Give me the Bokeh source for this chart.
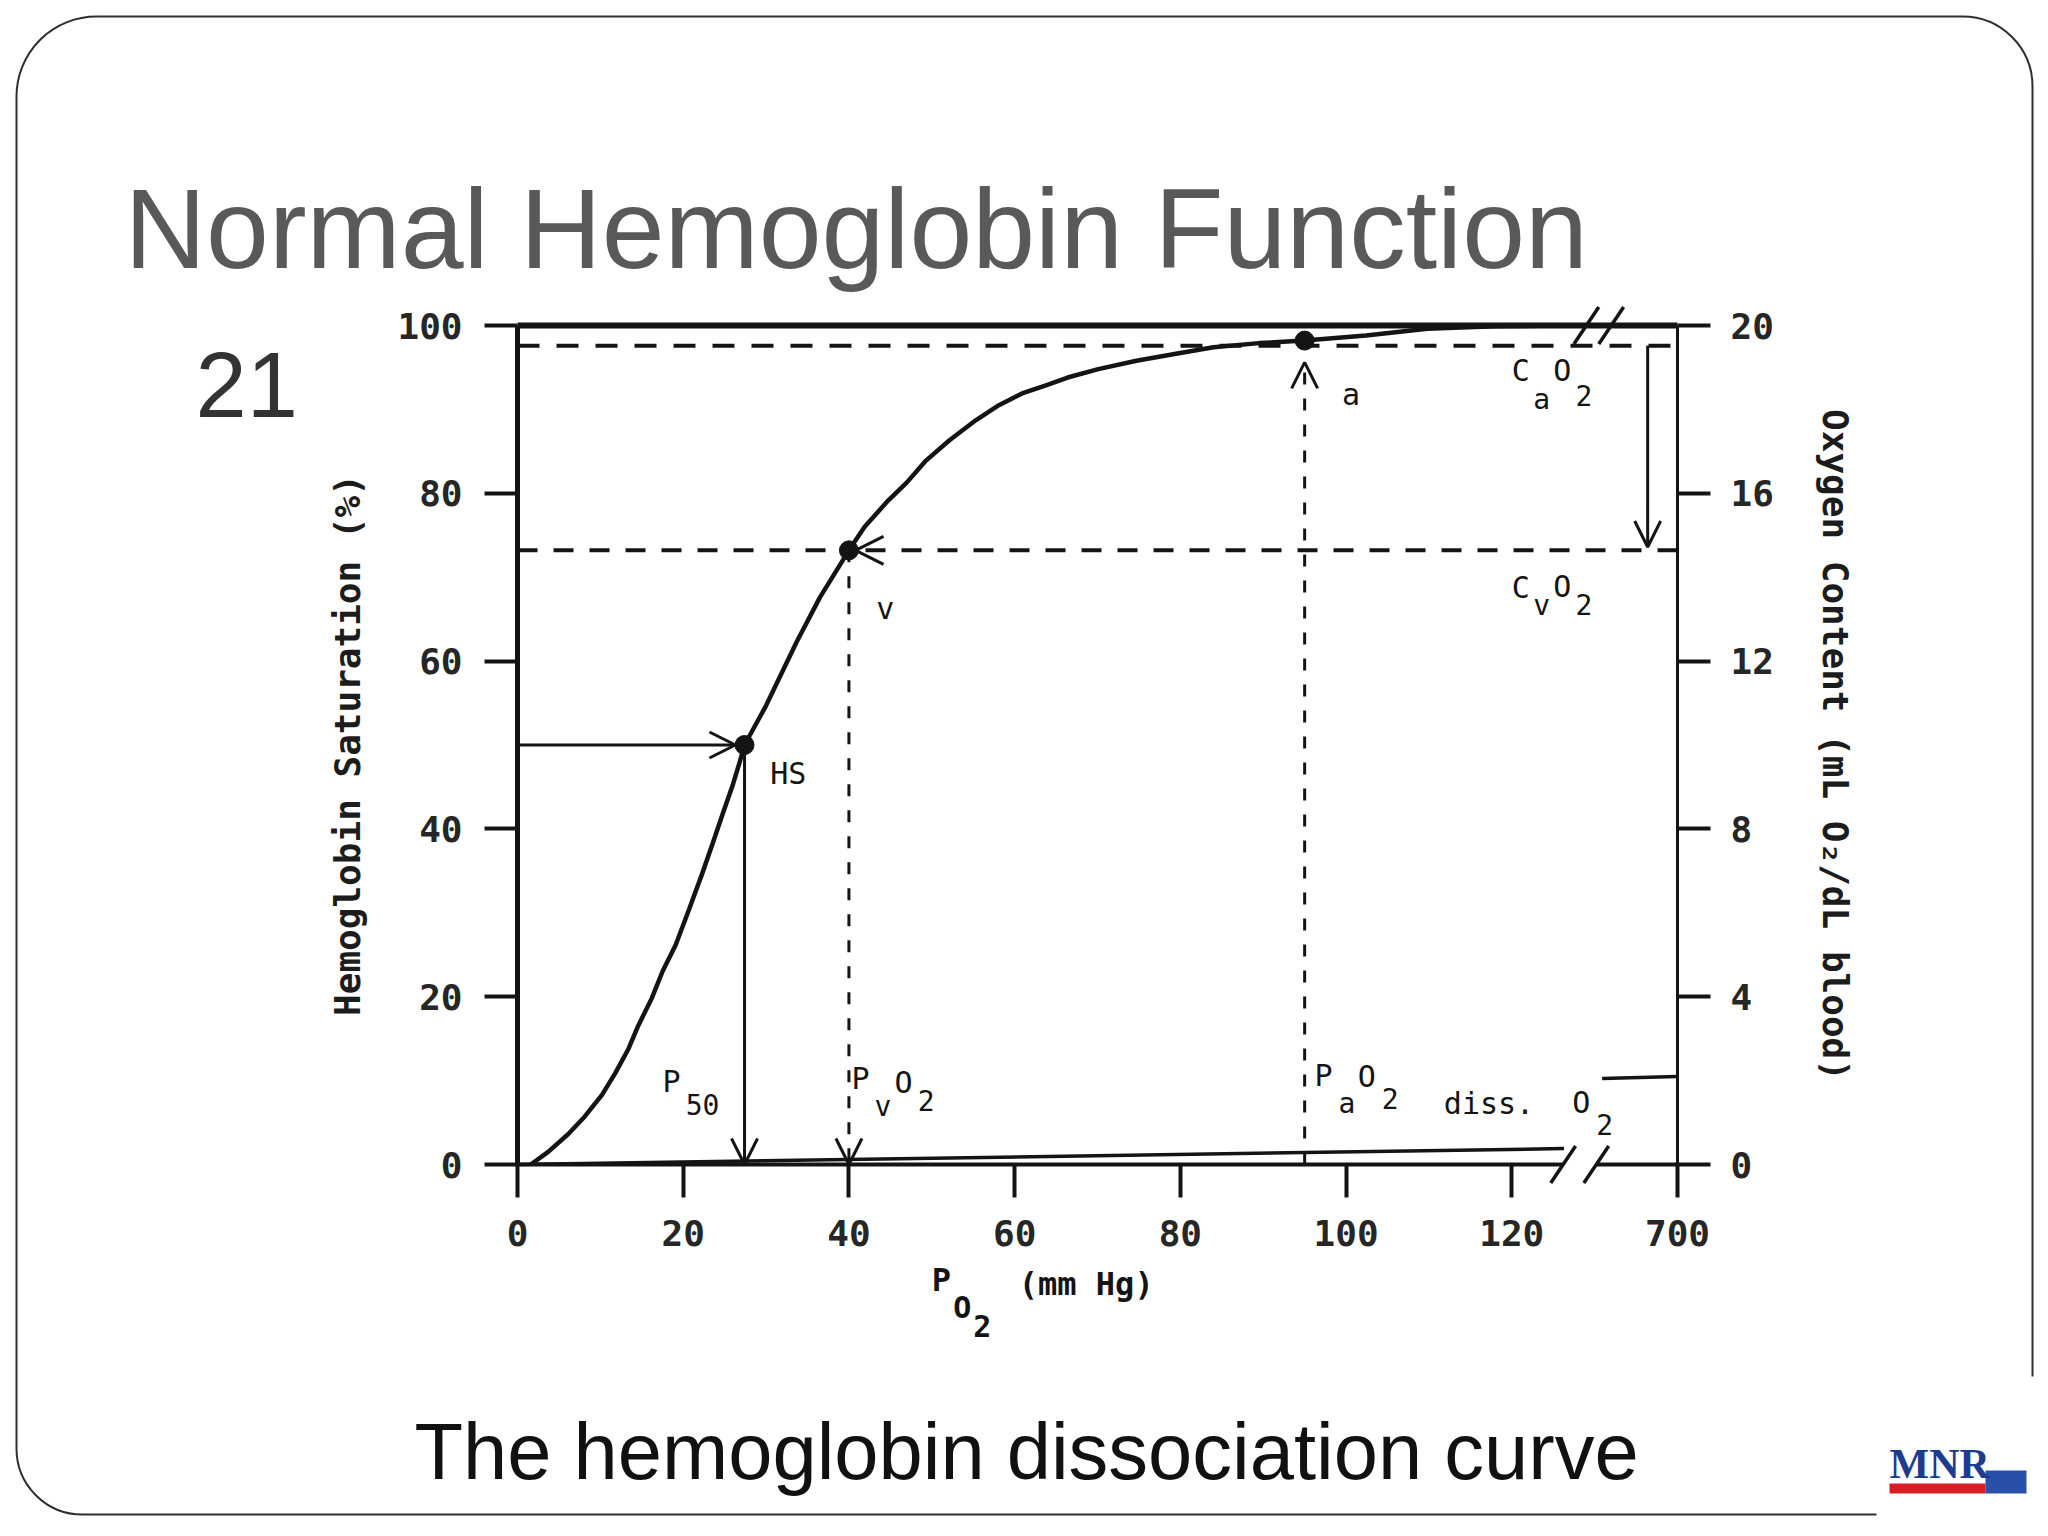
from bokeh.plotting import figure
from bokeh.models import (Range1d, LinearAxis, FixedTicker, ColumnDataSource, Arrow,
                          OpenHead, Label, BoxAnnotation)
from bokeh.core.properties import value
from bokeh.embed import file_html
from bokeh.resources import INLINE

# ------------------------------------------------------------------ data
# PO2 positions on the (broken) x axis; positions past the break are compressed,
# the axis position 140 carries the tick label "700".
x_ticks = [0, 20, 40, 60, 80, 100, 120, 140]
x_tick_labels = {140: "700"}
sat_ticks = [0, 20, 40, 60, 80, 100]
content_ticks = [0, 4, 8, 12, 16, 20]

# hemoglobin dissociation curve (PO2 mm Hg, saturation %)
curve_po2 = [1.6, 3.7, 6.1, 8.1, 10.2, 11.8, 13.4, 14.6, 16.2, 17.5, 19.1, 20.7, 22.3,
             23.5, 24.8, 26.0, 26.8, 27.4, 30.0, 33.7, 36.5, 40.0, 41.9, 44.7, 47.0,
             49.3, 52.1, 55.3, 58.1, 60.9, 63.6, 66.4, 70.1, 74.7, 79.3, 84.0, 89.5,
             95.0, 102.4, 109.8, 118.0, 126.0]
curve_sat = [0.0, 1.5, 3.6, 5.7, 8.3, 10.9, 13.8, 16.6, 19.8, 23.0, 26.2, 30.4, 34.7,
             38.1, 41.9, 45.3, 47.9, 50.0, 54.7, 62.3, 67.6, 73.2, 76.0, 79.1, 81.3,
             83.9, 86.3, 88.7, 90.5, 91.9, 92.8, 93.8, 94.8, 95.8, 96.6, 97.4, 97.9,
             98.2, 98.8, 99.6, 99.9, 100.0]

# marked points: half saturation, venous, arterial
point_names = ["HS", "v", "a"]
point_po2 = [27.4, 40.0, 95.0]
point_sat = [50.0, 73.2, 98.2]

full_sat = 100.0          # saturation ceiling line
ca_sat = 97.6             # arterial content level (C_aO2)
cv_sat = 73.2             # venous content level (C_vO2)
axis_end = 140.0          # x position of the "700" axis
avdiff_x = 136.4          # x of the arterio-venous difference arrow

# dissolved O2 (mL O2/dL blood)
diss_po2 = [0.0, 126.3]
diss_ml = [0.0, 0.38]
diss_hi_po2 = [130.9, 140.0]
diss_hi_ml = [2.05, 2.1]

# axis break marks
break_top_x = [129.0, 132.0]
break_bottom_x = [126.2, 130.2]

# chart annotations (text, x, y)
lab_text = ["HS", "v", "a", "P", "P", "O", "P", "O", "diss.", "O", "C", "O", "C", "O"]
lab_x = [30.5, 43.3, 99.5, 17.5, 40.3, 45.5, 96.2, 101.4, 111.8, 127.3, 120.0, 125.0, 120.0, 125.0]
lab_y = [46.6, 66.3, 91.8, 9.9, 10.2, 9.8, 10.6, 10.5, 7.3, 7.4, 94.6, 94.6, 68.8, 68.9]
sub_text = ["50", "v", "2", "a", "2", "2", "a", "2", "v", "2"]
sub_x = [20.3, 43.1, 48.3, 99.1, 104.3, 130.2, 122.6, 127.7, 122.6, 127.7]
sub_y = [7.2, 6.9, 7.6, 7.3, 7.9, 4.8, 91.2, 91.6, 66.6, 66.8]

# x axis title pieces
xt_text = ["P", "(mm Hg)"]
xt_x = [50.0, 60.5]
xt_y = [-13.8, -14.2]
xt_sub_text = ["O", "2"]
xt_sub_x = [52.6, 55.0]
xt_sub_y = [-17.0, -19.3]

title_text = "Normal Hemoglobin Function"
slide_number = "21"
caption_text = "The hemoglobin dissociation curve"

# ------------------------------------------------------------------ layout
W, H = 2048, 1536
X0_PX, XEND_PX = 517.0, 1677.0     # canvas px of x=0 and x=140
Y0_PX, Y100_PX = 1164.0, 325.0     # canvas px of 0 % and 100 %
sx = (XEND_PX - X0_PX) / axis_end
sy = (Y0_PX - Y100_PX) / 100.0
x_start = -X0_PX / sx
x_end = axis_end + (W - XEND_PX) / sx
y_start = -(H - Y0_PX) / sy
y_end = 100.0 + Y100_PX / sy
BASE_SHIFT = 0.365                  # alphabetic-baseline correction for labels (em)

p = figure(width=W, height=H, x_range=Range1d(x_start, x_end),
           y_range=Range1d(y_start, y_end), x_axis_type=None, y_axis_type=None,
           output_backend="svg", toolbar_location=None, min_border=0,
           outline_line_color=None, background_fill_color="white",
           border_fill_color="white")
p.title.text = ""
p.extra_y_ranges = {"content": Range1d(y_start * 0.2, y_end * 0.2)}

MONO = "DejaVu Sans Mono"
INK = "#141414"


def style_axis(ax, line_w):
    ax.axis_line_width = line_w
    ax.axis_line_color = INK
    ax.major_tick_line_width = 4
    ax.major_tick_line_color = INK
    ax.major_tick_out = 33
    ax.major_tick_in = 0
    ax.minor_tick_line_color = None
    ax.major_label_text_font = MONO
    ax.major_label_text_font_size = "36px"
    ax.major_label_text_font_style = "bold"
    ax.major_label_text_color = "#262626"
    ax.axis_label_text_font = MONO
    ax.axis_label_text_font_size = "36px"
    ax.axis_label_text_font_style = "bold"
    ax.axis_label_text_color = "#1c1c1c"


xaxis = LinearAxis(fixed_location=0, bounds=(0, axis_end), ticker=FixedTicker(ticks=x_ticks))
style_axis(xaxis, 4)
xaxis.major_label_overrides = x_tick_labels
xaxis.major_label_standoff = 22
p.add_layout(xaxis, "below")

yaxis = LinearAxis(fixed_location=0, bounds=(0, 100), ticker=FixedTicker(ticks=sat_ticks),
                   axis_label="Hemoglobin Saturation (%)")
style_axis(yaxis, 5)
yaxis.major_label_standoff = 22
yaxis.axis_label_standoff = 26
p.add_layout(yaxis, "left")

raxis = LinearAxis(y_range_name="content", fixed_location=axis_end, bounds=(0, 20),
                   ticker=FixedTicker(ticks=content_ticks),
                   axis_label="Oxygen Content (mL O\u2082/dL blood)")
style_axis(raxis, 3)
raxis.major_label_standoff = 20
raxis.axis_label_standoff = 38
p.add_layout(raxis, "right")

# saturation ceiling line
p.line([0, axis_end], [full_sat, full_sat], line_width=6, line_color=INK)

# content reference lines (dashed)
p.line([0, axis_end], [ca_sat, ca_sat], line_width=4, line_color=INK, line_dash="22 17")
p.line([0, point_po2[1]], [cv_sat, cv_sat], line_width=4, line_color=INK, line_dash="20 16")

# dissolved O2
p.line(diss_po2, diss_ml, y_range_name="content", line_width=3.5, line_color=INK)
p.line(diss_hi_po2, diss_hi_ml, y_range_name="content", line_width=3.5, line_color=INK)

# dissociation curve and points
p.line(curve_po2, curve_sat, line_width=4.5, line_color=INK, line_join="round")
p.scatter(point_po2, point_sat, size=19, color=INK)

# arrows
hs_x, hs_y = point_po2[0], point_sat[0]
v_x, v_y = point_po2[1], point_sat[1]
a_x, a_y = point_po2[2], point_sat[2]
solid_src = ColumnDataSource(dict(x0=[0, hs_x, avdiff_x], y0=[hs_y, hs_y, ca_sat],
                                  x1=[hs_x - 1.1, hs_x, avdiff_x], y1=[hs_y, 0, cv_sat + 0.4]))
p.add_layout(Arrow(source=solid_src, x_start="x0", y_start="y0", x_end="x1", y_end="y1",
                   line_width=3, line_color=INK,
                   end=OpenHead(size=26, line_width=3, line_color=INK)))
vdash_src = ColumnDataSource(dict(x0=[v_x, a_x], y0=[v_y, 0], x1=[v_x, a_x], y1=[0, a_y - 2.6]))
p.add_layout(Arrow(source=vdash_src, x_start="x0", y_start="y0", x_end="x1", y_end="y1",
                   line_width=3, line_color=INK, line_dash="12 14",
                   end=OpenHead(size=26, line_width=3, line_color=INK)))
hdash_src = ColumnDataSource(dict(x0=[axis_end], y0=[cv_sat], x1=[v_x + 0.8], y1=[cv_sat]))
p.add_layout(Arrow(source=hdash_src, x_start="x0", y_start="y0", x_end="x1", y_end="y1",
                   line_width=4, line_color=INK, line_dash="20 16",
                   end=OpenHead(size=28, line_width=3, line_color=INK)))

# axis break marks
gap = BoxAnnotation(left=break_bottom_x[0], right=break_bottom_x[1], bottom=-0.6, top=0.6,
                    fill_color="white", fill_alpha=1.0, line_color=None)
p.add_layout(gap)
r = p.segment([b - 1.5 for b in break_bottom_x], [-2.2] * 2,
              [b + 1.5 for b in break_bottom_x], [2.2] * 2, line_width=3.5, line_color=INK)
r.level = "overlay"
r = p.segment([b - 1.5 for b in break_top_x], [full_sat - 2.2] * 2,
              [b + 1.5 for b in break_top_x], [full_sat + 2.2] * 2, line_width=3.5, line_color=INK)
r.level = "overlay"

# in-chart labels
p.text(lab_x, lab_y, text=lab_text, text_font=value(MONO), text_font_size="30px",
       text_color=INK, text_baseline="middle", text_align="left")
p.text(sub_x, sub_y, text=sub_text, text_font=value(MONO), text_font_size="28px",
       text_color=INK, text_baseline="middle", text_align="left")
p.text(xt_x, xt_y, text=xt_text, text_font=value(MONO), text_font_size="32px",
       text_font_style="bold", text_color=INK, text_baseline="middle", text_align="left")
p.text(xt_sub_x, xt_sub_y, text=xt_sub_text, text_font=value(MONO), text_font_size="30px",
       text_font_style="bold", text_color=INK, text_baseline="middle", text_align="left")

# ------------------------------------------------------------------ slide decoration
p.add_layout(BoxAnnotation(left=16, right=2032, bottom=H - 1514, top=H - 16,
                           left_units="screen", right_units="screen",
                           bottom_units="screen", top_units="screen",
                           fill_alpha=0.0, line_color="#2e2e2e", line_alpha=1.0,
                           line_width=2,
                           border_radius=dict(top_left=80, top_right=70,
                                              bottom_right=0, bottom_left=66)))
p.add_layout(BoxAnnotation(left=1876, right=W, bottom=0, top=H - 1376,
                           left_units="screen", right_units="screen",
                           bottom_units="screen", top_units="screen",
                           fill_color="white", fill_alpha=1.0, line_color=None))


def slide_text(x_px, baseline_px, text, size, color, font="Liberation Sans", style="normal"):
    return Label(x=x_px, y=H - baseline_px + BASE_SHIFT * size, x_units="screen",
                 y_units="screen", text=text, text_font=font, text_font_size=f"{size}px",
                 text_font_style=style, text_color=color, text_baseline="alphabetic",
                 text_align="left")


p.add_layout(slide_text(124, 270, title_text, 113, "#595959"))
p.add_layout(slide_text(195, 418, slide_number, 92, "#333333"))
p.add_layout(slide_text(414, 1480, caption_text, 79.5, "#111111"))

# logo
p.add_layout(BoxAnnotation(left=1889, right=1985, bottom=H - 1493, top=H - 1483,
                           left_units="screen", right_units="screen",
                           bottom_units="screen", top_units="screen",
                           fill_color="#d81e25", fill_alpha=1.0, line_color=None))
p.add_layout(BoxAnnotation(left=1985, right=2026, bottom=H - 1493, top=H - 1470,
                           left_units="screen", right_units="screen",
                           bottom_units="screen", top_units="screen",
                           fill_color="#2a4fa8", fill_alpha=1.0, line_color=None))
p.add_layout(slide_text(1889, 1479, "MNR", 42, "#1d3c8f", font="Liberation Serif", style="bold"))

open("out.html", "w").write(file_html(p, INLINE))
